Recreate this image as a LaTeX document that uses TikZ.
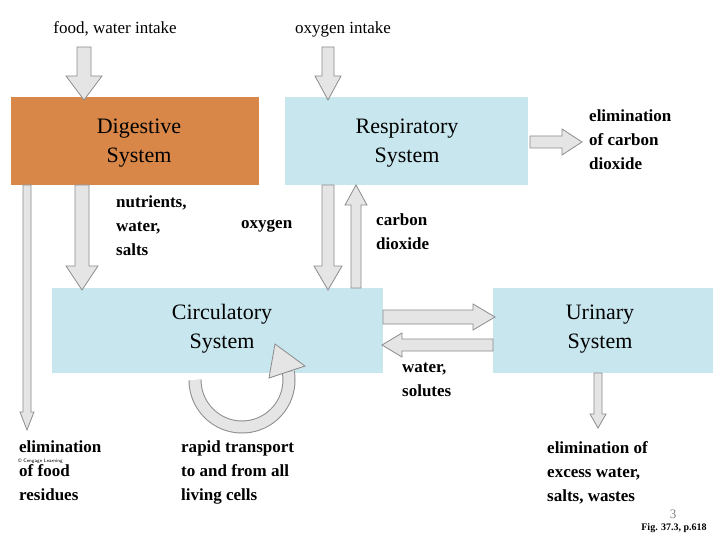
\documentclass[tikz,border=0pt]{standalone}
\usepackage{fontspec}
\setmainfont{Liberation Serif}
\begin{document}
\begin{tikzpicture}[x=1pt,y=-1pt,
  sysbox/.style={draw=none,inner sep=0pt,align=center,font=\fontsize{22}{29}\selectfont},
  lbl/.style={align=left,anchor=north west,inner sep=0pt,font=\bfseries\fontsize{17}{24}\selectfont},
  top/.style={font=\fontsize{17}{19}\selectfont,inner sep=0pt},
  barrow/.style={draw=black!45,fill=black!10,line width=0.8pt,line join=miter}]
\useasboundingbox (0,0) rectangle (720,540);
\fill[white] (0,0) rectangle (720,540);
\newcommand{\varrow}[6]{%
  \pgfmathsetmacro{\hb}{#3-#6}
  \draw[barrow] (#1-#4,#2) -- (#1+#4,#2) -- (#1+#4,\hb) -- (#1+#5,\hb) -- (#1,#3) -- (#1-#5,\hb) -- (#1-#4,\hb) -- cycle;}
\newcommand{\harrow}[6]{%
  \pgfmathsetmacro{\hb}{#3-#6}
  \draw[barrow] (#2,#1-#4) -- (#2,#1+#4) -- (\hb,#1+#4) -- (\hb,#1+#5) -- (#3,#1) -- (\hb,#1-#5) -- (\hb,#1-#4) -- cycle;}
% boxes
\node[sysbox,fill={rgb,255:red,216;green,135;blue,72},minimum width=248,minimum height=88] (dig) at (135,141) {};
\node[sysbox,fill={rgb,255:red,200;green,230;blue,238},minimum width=243,minimum height=88] (resp) at (406.5,141) {};
\node[sysbox,fill={rgb,255:red,200;green,230;blue,238},minimum width=331,minimum height=85] (circ) at (217.5,330.5) {};
\node[sysbox,fill={rgb,255:red,200;green,230;blue,238},minimum width=220,minimum height=85] (uri) at (603,330.5) {};
\node[sysbox] (digt) at (139,143) {Digestive\\System};
\node[sysbox] (respt) at (407,143) {Respiratory\\System};
\node[sysbox] (circt) at (222,329) {Circulatory\\System};
\node[sysbox] (urit) at (600,329) {Urinary\\System};
% arrows
\varrow{84}{47}{100}{7}{18}{24}
\varrow{328}{47}{100}{6}{13}{24}
\varrow{82}{185}{290}{7}{16}{24}
\varrow{328}{185}{290}{6}{14}{24}
\varrow{356}{288}{185}{5}{11}{-20}
\varrow{27}{185}{430}{4}{7}{18}
\varrow{598}{373}{428}{4}{8}{14}
\harrow{142}{530}{582}{6}{13}{20}
\harrow{317}{383}{495}{7}{13}{22}
\harrow{345}{493}{382}{6}{12}{-20}
% circular arrow
\draw[black!45,line width=13pt] (195,380) arc[start angle=180,end angle=-10,radius=47];
\draw[black!10,line width=11pt] (195,380) arc[start angle=180,end angle=-10,radius=47];
\draw[barrow] (305,366) -- (275,344) -- (269,378) -- cycle;
% texts
\node[top] (t1) at (115,29) {food, water intake};
\node[top] (t2) at (343,29) {oxygen intake};
\node[lbl] (l1) at (589,110) {elimination\\of carbon\\dioxide};
\node[lbl] (l2) at (116,196) {nutrients,\\water,\\salts};
\node[lbl] (l3) at (241,220) {oxygen};
\node[lbl] (l4) at (376,214) {carbon\\dioxide};
\node[lbl] (l5) at (402,363) {water,\\solutes};
\node[lbl] (l6) at (19,441) {elimination\\of food\\residues};
\node[lbl] (l7) at (181,441) {rapid transport\\to and from all\\living cells};
\node[lbl] (l8) at (547,441) {elimination of\\excess water,\\salts, wastes};
\node[font=\sffamily\fontsize{5}{6}\selectfont,anchor=west,inner sep=0pt] (cl) at (18,461) {© Cengage Learning};
\node[font=\fontsize{13}{14}\selectfont,text=black!50,inner sep=0pt] (pg) at (673,514) {3};
\node[font=\bfseries\fontsize{10}{12}\selectfont,inner sep=0pt] (fig) at (674,528) {Fig. 37.3, p.618};
\end{tikzpicture}
\end{document}
